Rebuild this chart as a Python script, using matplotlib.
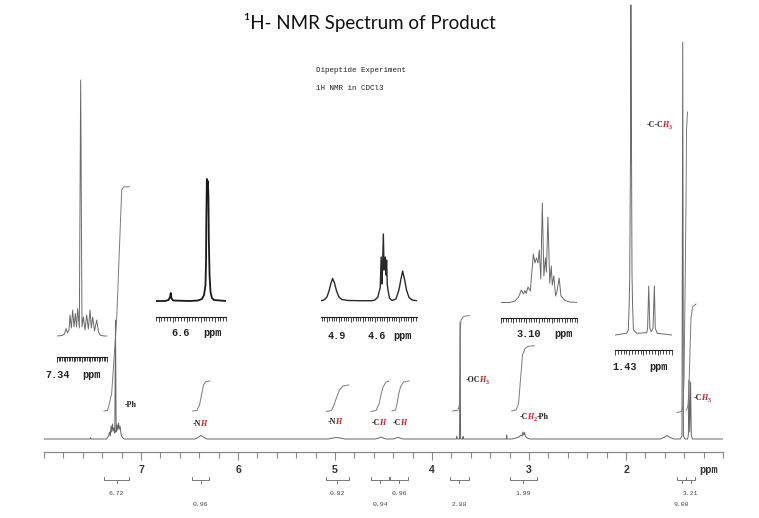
import matplotlib
matplotlib.use("Agg")
import matplotlib.pyplot as plt
from matplotlib.ticker import FixedLocator, MultipleLocator, FixedFormatter
from matplotlib.transforms import IdentityTransform

W, H = 759, 518

# ---- main 1H spectrum (ppm, intensity a.u.) ----
SPEC_PPM = [8.000, 7.525, 7.519, 7.514,
            7.355, 7.335, 7.325, 7.316, 7.309, 7.302, 7.294, 7.286, 7.278, 7.270,
            7.263, 7.256, 7.247, 7.240, 7.232, 7.224, 7.216, 7.206, 7.196, 7.175,
            6.443, 6.412, 6.392, 6.381, 6.371, 6.351, 6.320,
            5.072, 5.021, 4.985, 4.948, 4.897,
            4.588, 4.546, 4.526, 4.505, 4.474,
            4.402, 4.371, 4.351, 4.330, 4.299,
            3.750, 3.744, 3.738, 3.716, 3.711, 3.705, 3.685, 3.680, 3.675,
            3.234, 3.230, 3.226,
            3.175, 3.134, 3.103, 3.082, 3.072, 3.062, 3.055, 3.046, 3.038, 3.021, 2.990,
            1.649, 1.608, 1.577, 1.546, 1.505,
            1.440, 1.423, 1.415, 1.408, 1.399, 1.392,
            1.365, 1.357, 1.352, 1.343, 1.334, 1.327, 1.315, 1.000]
SPEC_INT = [0, 0, 1.5, 0,
            0, 3, 7, 3, 13, 7, 15, 8, 11, 6,
            119, 7, 14, 9, 16, 10, 13, 5, 2, 0,
            0, 1.5, 3, 3.5, 3, 1.5, 0,
            0, 1, 1.5, 1, 0,
            0, 1, 2, 1, 0,
            0, 1, 1.7, 1, 0,
            0, 3, 0, 0, 117, 0, 0, 2.5, 0,
            0, 4, 0,
            0, 1, 2, 4, 3, 7, 4, 6.5, 3, 1, 0,
            0, 1.5, 3.5, 1.5, 0,
            0, 3, 397, 3, 1.5, 0,
            0, 4, 59, 7, 57, 4, 0, 0]

# ---- integral traces (ppm, a.u.) ----
INTEG_ARO = ([7.381, 7.345, 7.330, 7.302, 7.251, 7.199, 7.180, 7.121],
             [28, 28.5, 34, 46, 119, 249, 252, 252.3])
INTEG_NH1 = ([6.467, 6.423, 6.397, 6.376, 6.356, 6.330, 6.289],
             [28, 28.5, 34, 44, 54, 57.5, 58])
INTEG_NH2 = ([5.086, 5.036, 5.010, 4.982, 4.954, 4.918, 4.856],
             [27.5, 28.5, 34, 42, 49, 53, 54])
INTEG_CH1 = ([4.629, 4.577, 4.546, 4.526, 4.505, 4.474, 4.443],
             [27.5, 28.5, 35, 44, 52, 57, 58])
INTEG_CH2 = ([4.412, 4.376, 4.361, 4.345, 4.325, 4.294, 4.237],
             [28, 29, 35, 44, 52, 57, 58])
INTEG_OME = ([3.787, 3.732, 3.717, 3.711, 3.708, 3.701, 3.675, 3.615],
             [28, 29, 34, 59, 109, 119, 122.5, 123.5])
INTEG_CH2PH = ([3.178, 3.134, 3.108, 3.088, 3.067, 3.041, 3.010, 2.945],
               [28, 29, 35, 59, 84, 90.5, 92.7, 93.3])
INTEG_TBU = ([1.474, 1.428, 1.412, 1.402, 1.392, 1.381, 1.376, 1.366],
             [26.5, 27.5, 34, 59, 139, 239, 309, 327])
INTEG_ME = ([1.376, 1.361, 1.351, 1.340, 1.330, 1.314, 1.278],
            [29, 34, 49, 89, 121, 132, 135])
INTEGRALS = [INTEG_ARO, INTEG_NH1, INTEG_NH2, INTEG_CH1, INTEG_CH2,
             INTEG_OME, INTEG_CH2PH, INTEG_TBU, INTEG_ME]

# ---- integration brackets ----
INT_LABELS = ["6.72", "0.96", "0.82", "0.94", "0.96", "2.88", "1.99", "9.00", "3.21"]
INT_START = [7.381, 6.474, 5.093, 4.629, 4.433, 3.814, 3.196, 1.474, 1.381]
INT_END = [7.124, 6.299, 4.856, 4.443, 4.247, 3.619, 2.918, 1.381, 1.289]
INT_ROW = [0, 1, 0, 1, 0, 1, 0, 1, 0]

# ---- expansions ----
INSET1_PPM = [7.400, 7.370, 7.355, 7.346, 7.337, 7.328, 7.322, 7.314, 7.306, 7.298,
              7.290, 7.283, 7.276, 7.266, 7.258, 7.250, 7.242, 7.232, 7.222, 7.212,
              7.202, 7.194, 7.186, 7.175, 7.162, 7.151, 7.142, 7.118, 7.100]
INSET1_INT = [0, 0.5, 2, 7.5, 3, 6, 21, 8, 26, 9,
              22.5, 9, 27.5, 8, 256, 9, 19, 6, 21, 7,
              26, 8, 19, 5, 16, 4, 1, 0, 0]

INSET2_PPM = [6.720, 6.654, 6.629, 6.618, 6.613, 6.608, 6.597, 6.476, 6.419, 6.391,
              6.376, 6.366, 6.362, 6.360, 6.356, 6.352, 6.349, 6.345, 6.342, 6.337,
              6.330, 6.320, 6.306, 6.220]
INSET2_INT = [0, 0, 1, 4, 8, 3, 0.5, 0, 0.5, 2,
              6, 16, 40, 80, 122, 114, 120, 105, 60, 26,
              9, 3, 1, 0]

INSET3_PPM = [5.050, 5.023, 4.998, 4.981, 4.964, 4.950, 4.935, 4.918, 4.898, 4.873,
              4.823, 4.723, 4.623, 4.598, 4.573, 4.562, 4.554, 4.546, 4.541, 4.535,
              4.528, 4.522, 4.517, 4.512, 4.506, 4.501, 4.495, 4.488, 4.477, 4.456,
              4.423, 4.398, 4.381, 4.367, 4.352, 4.335, 4.314, 4.289, 4.250]
INSET3_INT = [0, 0.7, 3.7, 9.7, 17.7, 22.2, 17.7, 9.7, 3.7, 1.2,
              0.2, 0, 0, 0.7, 3.7, 9.7, 12.7, 43.7, 16.7, 30.7,
              66.7, 30.7, 38.7, 43.7, 25.7, 40.7, 15.7, 9.7, 2.7, 0.2,
              1.7, 10.7, 21.7, 29.7, 21.7, 10.7, 3.2, 0.7, 0]

INSET4_PPM = [3.200, 3.164, 3.144, 3.130, 3.119, 3.111, 3.105, 3.100, 3.093, 3.084,
              3.079, 3.072, 3.066, 3.060, 3.054, 3.049, 3.043, 3.037, 3.031, 3.025,
              3.021, 3.015, 3.008, 3.002, 2.998, 2.992, 2.985, 2.980, 2.971, 2.964,
              2.948, 2.929, 2.900]
INSET4_INT = [0, 0, 1.5, 5.5, 12.5, 8.5, 12, 9, 15.5, 11.5,
              27.5, 48.5, 39.5, 44.5, 39.5, 52.5, 23.5, 99.5, 26.5, 44.5,
              30.5, 85.5, 19.5, 36.5, 17.5, 26.5, 6.5, 10.5, 24.5, 6.5,
              2, 0.5, 0]

INSET5_PPM = [1.500, 1.459, 1.453, 1.450, 1.448, 1.445, 1.444, 1.442, 1.440, 1.438,
              1.435, 1.423, 1.388, 1.385, 1.381, 1.377, 1.372, 1.366, 1.361, 1.358,
              1.351, 1.300]
INSET5_INT = [0, 1.7, 5, 30, 60, 200, 330, 200, 60, 30,
              5, 1.7, 2.3, 6.7, 49, 6.7, 3.3, 6.7, 49, 6.7,
              1.7, 0]

MAJOR_TICKS = [2, 3, 4, 5, 6, 7]
MAJOR_LABELS = ["2", "3", "4", "5", "6", "7"]


def box(left, top, right, bottom):
    """Pixel box of the reference -> figure fractions."""
    return [left / W, 1 - bottom / H, (right - left) / W, (bottom - top) / H]


def fxy(x, y):
    return x / W, 1 - y / H


fig = plt.figure(figsize=(W / 100, H / 100), dpi=100)
fig.patch.set_facecolor("white")

mono = "Liberation Mono"
serif = "Liberation Serif"

fig.text(*fxy(370, 22), "¹H- NMR Spectrum of Product", family="Lato",
         fontsize=13.5, ha="center", va="center", color="#111111")
fig.text(*fxy(316, 70), "Dipeptide Experiment", family=mono, fontsize=5.4,
         ha="left", va="center", color="#222222")
fig.text(*fxy(316, 88), "1H NMR in CDCl3", family=mono, fontsize=5.4,
         ha="left", va="center", color="#222222")

# main axes
ax = fig.add_axes(box(44, 5, 723, 452))
ax.patch.set_alpha(0)
ax.plot(SPEC_PPM, SPEC_INT, color="#666666", lw=0.7)
for ppm, val in INTEGRALS:
    ax.plot(ppm, val, color="#7a7a7a", lw=0.7)
ax.set_xlim(8.0, 1.0)
ax.set_ylim(-13, 434)
for side in ["top", "left", "right"]:
    ax.spines[side].set_visible(False)
ax.spines["bottom"].set_color("#8a8a8a")
ax.spines["bottom"].set_linewidth(0.9)
ax.set_yticks([])
ax.xaxis.set_major_locator(FixedLocator(MAJOR_TICKS))
ax.xaxis.set_major_formatter(FixedFormatter(MAJOR_LABELS))
ax.xaxis.set_minor_locator(MultipleLocator(0.2))
ax.tick_params(axis="x", which="major", length=5.5, width=0.8, color="#8a8a8a",
               pad=4, labelsize=7.5, labelcolor="#333333")
ax.tick_params(axis="x", which="minor", length=4.3, width=0.8, color="#8a8a8a")
for lab in ax.get_xticklabels():
    lab.set_fontfamily("Liberation Sans")
    lab.set_fontweight("bold")
fig.text(*fxy(709, 470), "ppm", family=mono, fontweight="bold", fontsize=7.5,
         ha="center", va="center", color="#333333")

renderer = fig.canvas.get_renderer()


def chem_label(parts, x, y):
    """Peak assignment: black text with red italic H, written piece by piece."""
    px, py = ax.transData.transform((x, y))
    py -= 2.2
    for text, red, sub in parts:
        if red and not sub:
            px -= 1.4
        t = fig.text(px, py - (1.8 if sub else 0), text, transform=IdentityTransform(),
                     family=serif, fontweight="bold", fontsize=4.3 if sub else 5.8,
                     color="#e3141c" if red else "#222222",
                     style="italic" if red and not sub else "normal",
                     ha="left", va="baseline")
        px = t.get_window_extent(renderer).x1 + 0.1


chem_label([("-Ph", False, False)], 7.165, 34)
chem_label([("-N", False, False), ("H", True, False)], 6.464, 15)
chem_label([("-N", False, False), ("H", True, False)], 5.072, 17)
chem_label([("-C", False, False), ("H", True, False)], 4.619, 16)
chem_label([("-C", False, False), ("H", True, False)], 4.402, 16)
chem_label([("-OC", False, False), ("H", True, False), ("3", True, True)], 3.649, 59)
chem_label([("-C", False, False), ("H", True, False), ("2", True, True),
            ("-Ph", False, False)], 3.093, 22)
chem_label([("-C-C", False, False), ("H", True, False), ("3", True, True)], 1.784, 314)
chem_label([("-C", False, False), ("H", True, False), ("3", True, True)], 1.299, 41)

# integration brackets under the axis
axi = fig.add_axes(box(44, 475, 723, 512))
axi.set_xlim(8.0, 1.0)
axi.set_ylim(0, 1)
axi.axis("off")
for lab, p0, p1, row in zip(INT_LABELS, INT_START, INT_END, INT_ROW):
    mid = (p0 + p1) / 2
    axi.plot([p0, p0, p1, p1], [0.95, 0.865, 0.865, 0.95], color="#777777", lw=0.7)
    axi.plot([mid, mid], [0.865, 0.78], color="#777777", lw=0.7)
    axi.text(mid, 0.51 if row == 0 else 0.19, lab, family=mono, fontsize=4.6,
             ha="center", va="center", color="#444444")


def inset(bx, ppm, val, xlim, ylim, minor, major, color, lw):
    a = fig.add_axes(bx)
    a.patch.set_alpha(0)
    a.plot(ppm, val, color=color, lw=lw)
    a.set_xlim(*xlim)
    a.set_ylim(*ylim)
    for side in ["top", "left", "right"]:
        a.spines[side].set_visible(False)
    a.spines["bottom"].set_color("#222222")
    a.spines["bottom"].set_linewidth(0.8)
    a.set_yticks([])
    a.xaxis.set_major_locator(MultipleLocator(major))
    a.xaxis.set_minor_locator(MultipleLocator(minor))
    a.tick_params(axis="x", which="major", length=3.8, width=0.6, color="#222222",
                  labelbottom=False)
    a.tick_params(axis="x", which="minor", length=2.6, width=0.6, color="#222222")
    return a


inset(box(57, 78, 107, 357), INSET1_PPM, INSET1_INT, (7.40, 7.10), (-21, 258),
      0.01, 0.05, "#6a6a6a", 0.7)
inset(box(155.7, 176, 226, 317), INSET2_PPM, INSET2_INT, (6.72, 6.22), (-16, 125),
      0.02, 0.1, "#1a1a1a", 1.3)
inset(box(320.7, 230, 416.7, 317.3), INSET3_PPM, INSET3_INT, (5.05, 4.25), (-16.6, 70.7),
      0.02, 0.1, "#2a2a2a", 1.0)
inset(box(500.7, 200, 577.3, 318), INSET4_PPM, INSET4_INT, (3.20, 2.90), (-15.5, 102.5),
      0.01, 0.05, "#6a6a6a", 0.7)
inset(box(615, 3, 671.7, 350), INSET5_PPM, INSET5_INT, (1.50, 1.30), (-15, 332),
      0.01, 0.05, "#6a6a6a", 0.7)

for text, x, y in [("7.34", 57.5, 375), ("ppm", 91.7, 375),
                   ("6.6", 181, 333), ("ppm", 212, 333),
                   ("4.9", 337, 336), ("4.6", 377, 336), ("ppm", 402, 336),
                   ("3.10", 529, 334), ("ppm", 563, 334),
                   ("1.43", 625, 367), ("ppm", 658, 367)]:
    fig.text(*fxy(x, y), text, family=mono, fontweight="bold", fontsize=7.3,
             ha="center", va="center", color="#222222")

fig.savefig("out.png", dpi=100, facecolor="white")
